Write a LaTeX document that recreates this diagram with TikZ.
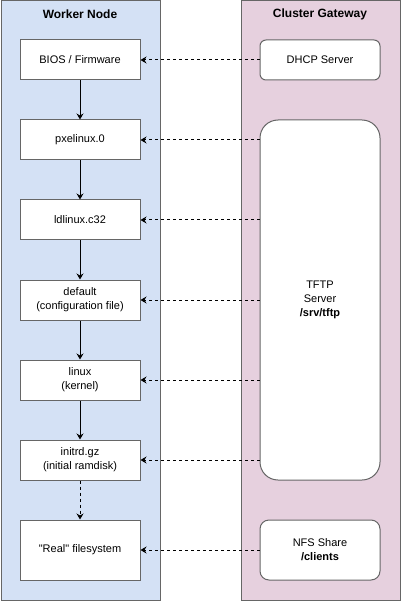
\documentclass[tikz,border=0pt]{standalone}
\usepackage{fontspec}
\setmainfont{Liberation Sans}
\usetikzlibrary{arrows.meta}
\definecolor{workerblue}{HTML}{D4E1F5}
\definecolor{gatewaypink}{HTML}{E6D0DE}
\definecolor{edgegray}{HTML}{666666}

\begin{document}
\begin{tikzpicture}[x=1pt, y=-1pt, font=\fontsize{11}{14}\selectfont]
    \tikzstyle{group_box} = [draw=edgegray, line width=1pt, minimum width=159pt, minimum height=599pt, inner sep=0pt]
    \tikzstyle{group_title} = [font={\fontsize{12}{14}\selectfont\bfseries}]
    \tikzstyle{node_step} = [draw=edgegray, line width=1pt, fill=white, minimum width=120pt, minimum height=40pt, align=center, inner sep=0pt]
    \tikzstyle{node_srv} = [node_step, rounded corners=6pt]
    \tikzstyle{arrow_solid} = [-{Stealth[length=6pt, width=7pt, inset=2pt]}, black, line width=1pt]
    \tikzstyle{arrow_dash} = [arrow_solid, dash pattern=on 3pt off 3pt]

    \useasboundingbox (0,0) rectangle (401,601);

    % groups
    \node[group_box, fill=workerblue] (worker) at (80.5,300.5) {};
    \node[group_box, fill=gatewaypink] (gateway) at (320.5,300.5) {};
    \node[group_title] (tworker) at (80,14) {Worker Node};
    \node[group_title] (tgateway) at (320,14) {Cluster Gateway};

    % ---------------------------------------

    \node[node_step] (bios) at (80,60) {BIOS / Firmware};
    \node[node_step] (pxe) at (80,140) {pxelinux.0};
    \node[node_step] (ldl) at (80,220) {ldlinux.c32};
    \node[node_step] (cfg) at (80,300) {default\\(configuration file)};
    \node[node_step] (kern) at (80,380) {linux\\(kernel)};
    \node[node_step] (initrd) at (80,460) {initrd.gz\\(initial ramdisk)};
    \node[node_step, minimum height=60pt] (realfs) at (80,550) {\textquotedbl Real\textquotedbl{} filesystem};

    \draw[arrow_solid] (bios) -- (pxe);
    \draw[arrow_solid] (pxe) -- (ldl);
    \draw[arrow_solid] (ldl) -- (cfg);
    \draw[arrow_solid] (cfg) -- (kern);
    \draw[arrow_solid] (kern) -- (initrd);
    \draw[arrow_dash] (initrd) -- (realfs);

    % ---------------------------------------

    \node[node_srv] (dhcp) at (320,60) {DHCP Server};
    \node[node_srv, minimum height=360pt, rounded corners=18pt] (tftp) at (320,300) {TFTP\\Server\\\textbf{/srv/tftp}};
    \node[node_srv, minimum height=60pt, rounded corners=9pt] (nfs) at (320,550) {NFS Share\\\textbf{/clients}};

    \draw[arrow_dash] (dhcp) -- (bios);
    \draw[arrow_dash] (pxe.east -| tftp.west) -- (pxe.east);
    \draw[arrow_dash] (ldl.east -| tftp.west) -- (ldl.east);
    \draw[arrow_dash] (cfg.east -| tftp.west) -- (cfg.east);
    \draw[arrow_dash] (kern.east -| tftp.west) -- (kern.east);
    \draw[arrow_dash] (initrd.east -| tftp.west) -- (initrd.east);
    \draw[arrow_dash] (nfs) -- (realfs);

\end{tikzpicture}
\end{document}
